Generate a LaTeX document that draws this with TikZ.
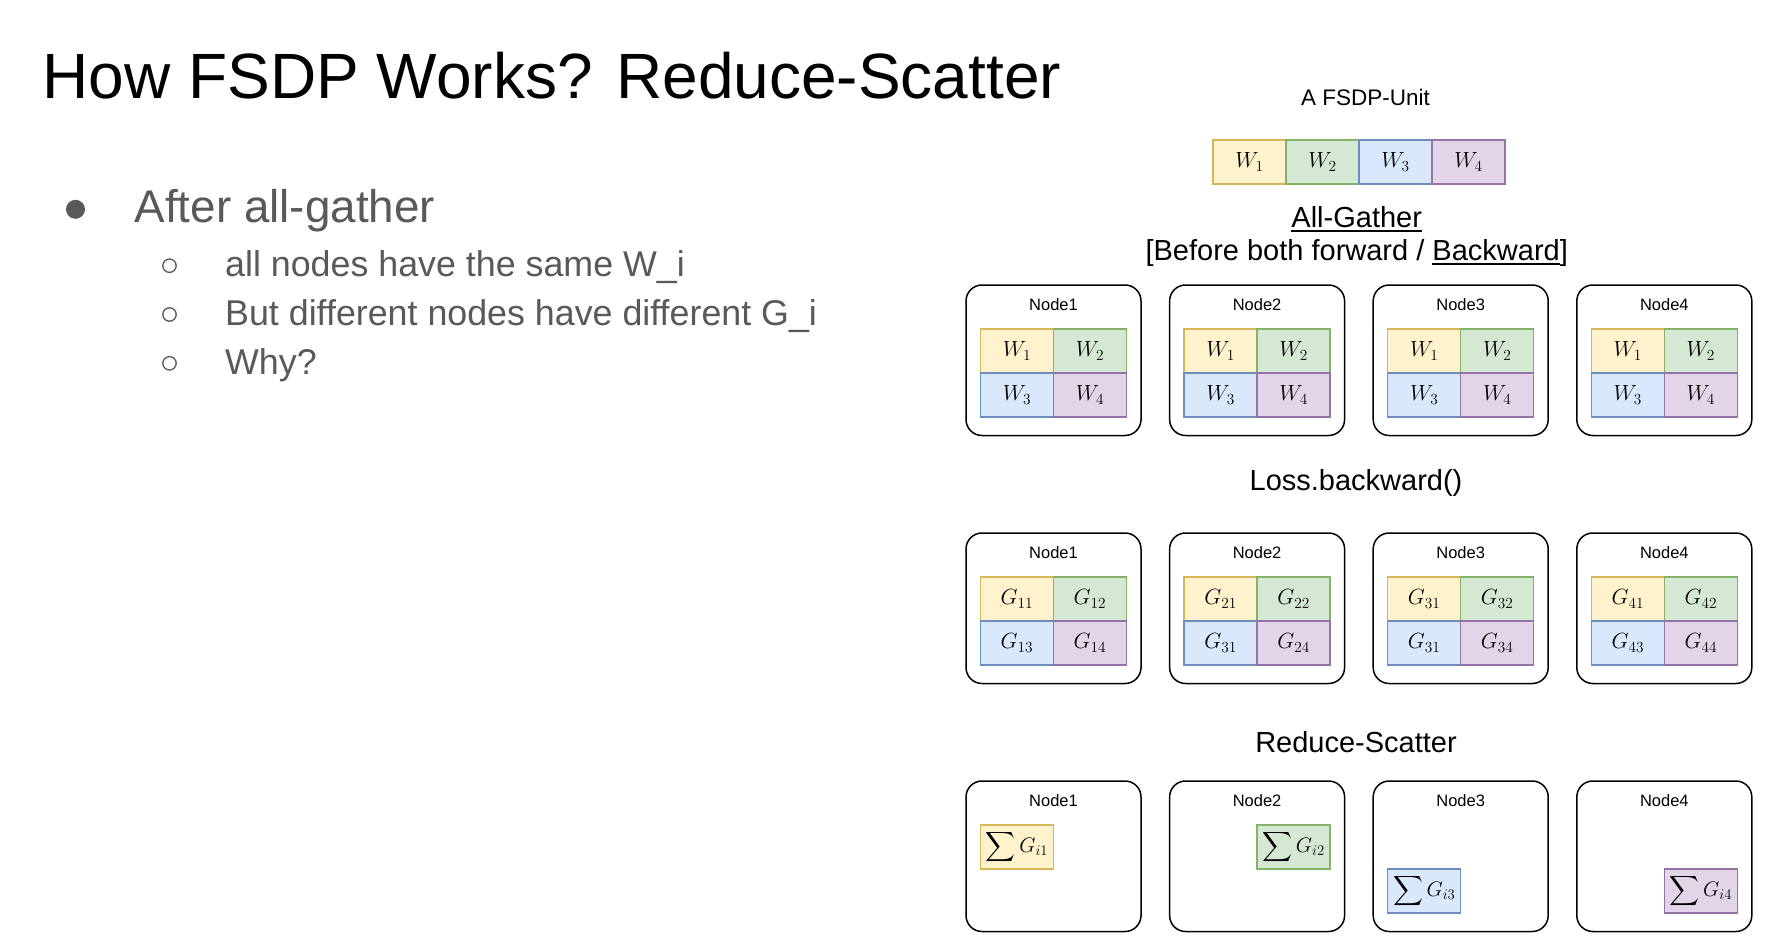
\RequirePackage{fix-cm}
\documentclass[tikz,border=0pt]{standalone}
\usepackage{exscale}
\usepackage[no-math]{fontspec}
\setmainfont{Liberation Sans}
\definecolor{txtgray}{HTML}{595959}
\definecolor{yfill}{HTML}{FFF2CC}\definecolor{ydraw}{HTML}{D6B656}
\definecolor{gfill}{HTML}{D5E8D4}\definecolor{gdraw}{HTML}{82B366}
\definecolor{bfill}{HTML}{DAE8FC}\definecolor{bdraw}{HTML}{6C8EBF}
\definecolor{pfill}{HTML}{E1D5E7}\definecolor{pdraw}{HTML}{9673A6}
\newcommand\fsz[1]{\fontsize{#1}{#1}\selectfont}
\newcommand\ulx[1]{\setbox0\hbox{#1}\rlap{\rule[-4.5pt]{\wd0}{1.8pt}}\box0}
\tikzset{
  txt/.style={inner sep=0pt},
  nodebox/.style={draw=black, line width=1.5pt, rounded corners=16pt, minimum width=175pt, minimum height=150.5pt, inner sep=0pt},
  nodelbl/.style={anchor=base, inner sep=0pt, font=\fsz{16.5}},
  cell/.style={line width=1.4pt, minimum width=73pt, minimum height=44pt, inner sep=0pt, font=\fsz{22}},
  cy/.style={cell, draw=ydraw, fill=yfill},
  cg/.style={cell, draw=gdraw, fill=gfill},
  cb/.style={cell, draw=bdraw, fill=bfill},
  cp/.style={cell, draw=pdraw, fill=pfill},
  sumf/.style={font=\fsz{21}},
  head/.style={anchor=base, inner sep=0pt, font=\fsz{29}},
  bul/.style={circle, fill=txtgray, minimum size=19pt, inner sep=0pt},
  subbul/.style={circle, draw=txtgray, line width=1.3pt, minimum size=13.4pt, inner sep=0pt},
  subtxt/.style={anchor=base west, inner sep=0pt, text=txtgray, font=\fsz{35.8}}
}
\begin{document}
\begin{tikzpicture}[x=1pt,y=-1pt]
\useasboundingbox (0,0) rectangle (1778,950);
\fill[white] (0,0) rectangle (1778,950);
% left side
\node[txt, anchor=base west, font=\fsz{64}] (title) at (42.4,98.3) {How FSDP Works? Reduce-Scatter};
\node[bul] (b1) at (75.5,209.3) {};
\node[txt, anchor=base west, text=txtgray, font=\fsz{45.8}] (l1) at (134.5,222.7) {After all-gather};
\node[subbul] (sb1) at (169.5,265.7) {};
\node[subtxt] (s1) at (225,276.7) {all nodes have the same W\_i};
\node[subbul] (sb2) at (169.5,314.5) {};
\node[subtxt] (s2) at (225,325.5) {But different nodes have different G\_i};
\node[subbul] (sb3) at (169.5,363.3) {};
\node[subtxt] (s3) at (225,374.3) {Why?};
% FSDP unit
\node[txt, anchor=base, font=\fsz{22.5}] (unitlbl) at (1365.5,105.7) {A FSDP-Unit};
\node[cy] (u1) at (1249.5,162) {$W_1$};
\node[cg] (u2) at (1322.5,162) {$W_2$};
\node[cb] (u3) at (1395.5,162) {$W_3$};
\node[cp] (u4) at (1468.5,162) {$W_4$};
\node[head] (ag) at (1356.7,227) {\ulx{All-Gather}};
\node[head] (bf) at (1356.7,260) {[Before both forward / \ulx{Backward}]};
\node[head] (loss) at (1356,490) {Loss.backward()};
\node[head] (rs) at (1356,752.3) {Reduce-Scatter};
% row 1
\foreach \k in {1,...,4}{
  \pgfmathsetmacro\cx{1053.5+203.6*(\k-1)}
  \node[nodebox] (ra\k) at (\cx,360.25) {};
  \node[nodelbl] (ra\k l) at (\cx,310.5) {Node\k};
  \node[cy] (ra\k a) at (\cx-36.5,351) {$W_1$};
  \node[cg] (ra\k b) at (\cx+36.5,351) {$W_2$};
  \node[cb] (ra\k c) at (\cx-36.5,395) {$W_3$};
  \node[cp] (ra\k d) at (\cx+36.5,395) {$W_4$};
}
% row 2
\foreach \k/\a/\b/\c/\d in {1/11/12/13/14, 2/21/22/31/24, 3/31/32/31/34, 4/41/42/43/44}{
  \pgfmathsetmacro\cx{1053.5+203.6*(\k-1)}
  \node[nodebox] (rb\k) at (\cx,608.25) {};
  \node[nodelbl] (rb\k l) at (\cx,558.5) {Node\k};
  \node[cy] (rb\k a) at (\cx-36.5,599) {$G_{\a}$};
  \node[cg] (rb\k b) at (\cx+36.5,599) {$G_{\b}$};
  \node[cb] (rb\k c) at (\cx-36.5,643) {$G_{\c}$};
  \node[cp] (rb\k d) at (\cx+36.5,643) {$G_{\d}$};
}
% row 3
\foreach \k in {1,...,4}{
  \pgfmathsetmacro\cx{1053.5+203.6*(\k-1)}
  \node[nodebox] (rc\k) at (\cx,856.25) {};
  \node[nodelbl] (rc\k l) at (\cx,806.5) {Node\k};
}
\node[cy, sumf] (rc1s) at (1053.5-36.5,847) {$\displaystyle\sum G_{i1}$};
\node[cg, sumf] (rc2s) at (1257.1+36.5,847) {$\displaystyle\sum G_{i2}$};
\node[cb, sumf] (rc3s) at (1460.7-36.5,891) {$\displaystyle\sum G_{i3}$};
\node[cp, sumf] (rc4s) at (1664.3+36.5,891) {$\displaystyle\sum G_{i4}$};
\end{tikzpicture}
\end{document}
